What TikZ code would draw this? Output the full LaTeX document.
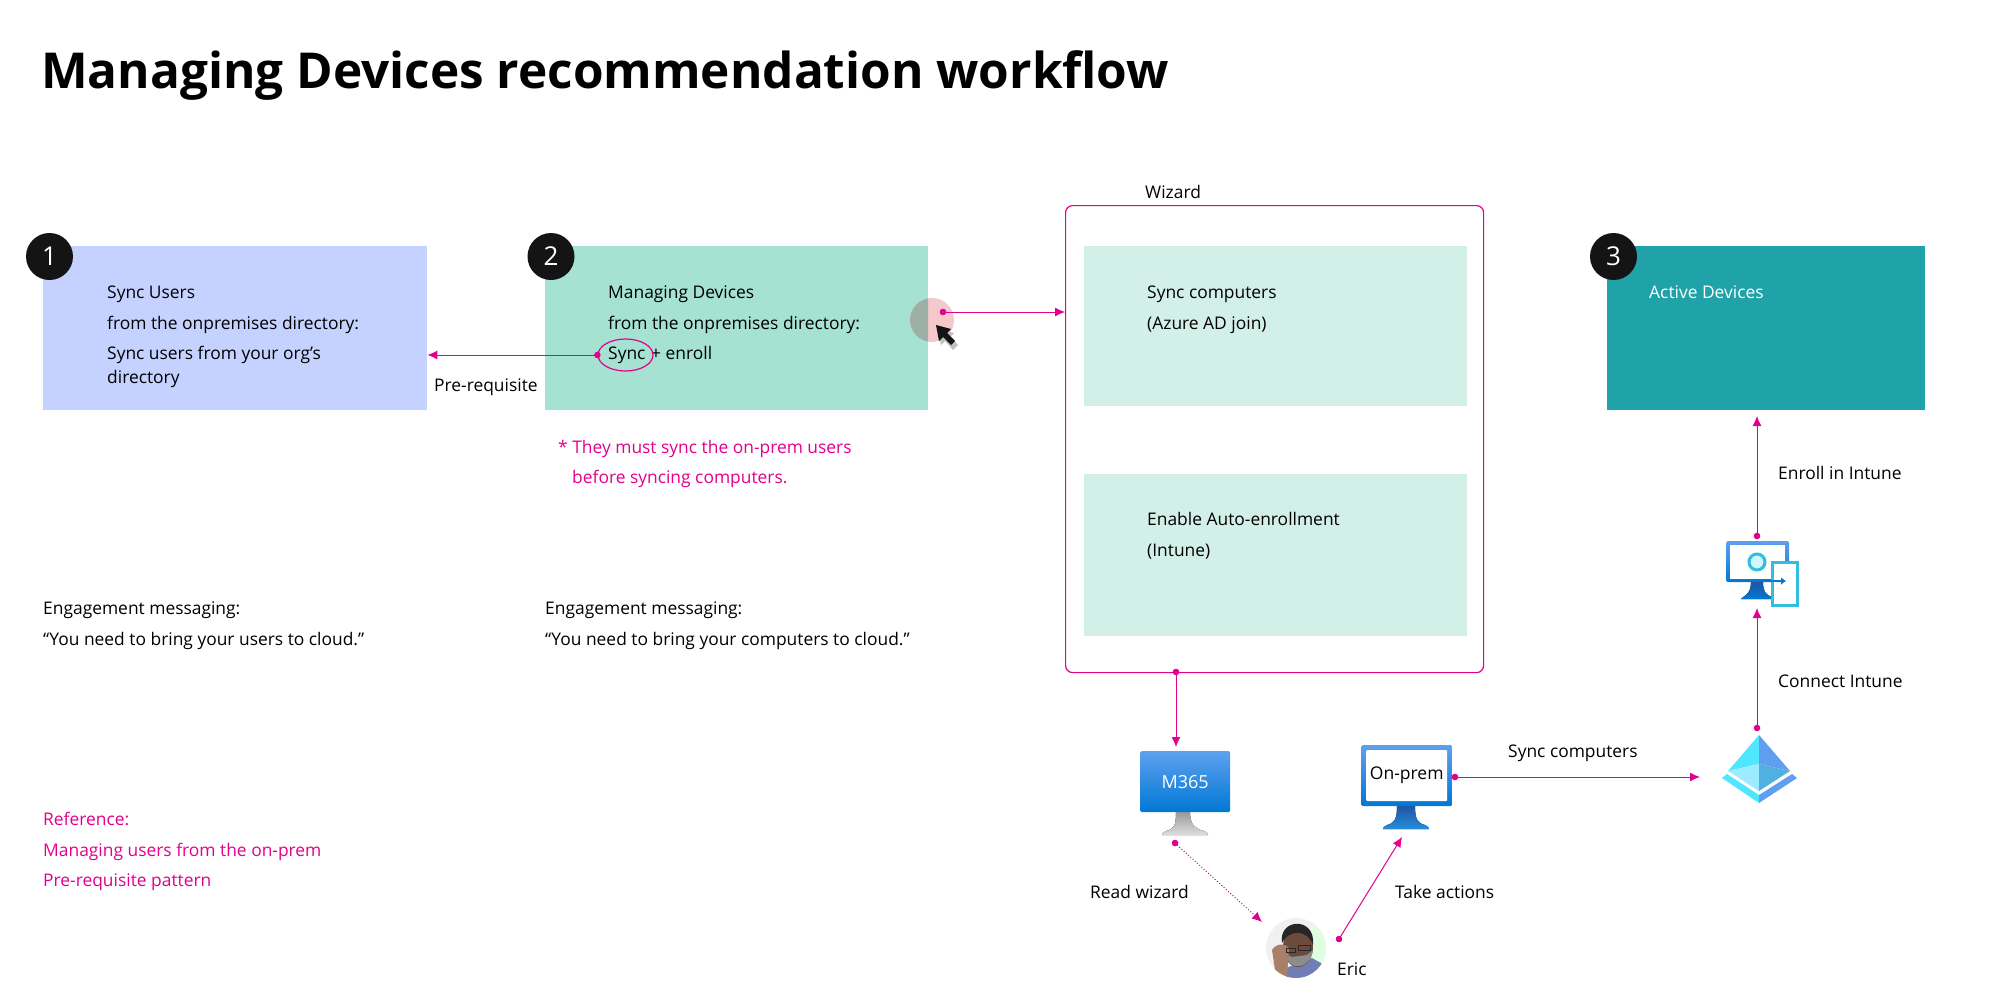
\documentclass[tikz,border=0pt]{standalone}
\usepackage{fontspec}
\setmainfont{Open Sans}
\usepackage{tikz}
\usetikzlibrary{arrows.meta, shapes.geometric}

\definecolor{PinkLine}{HTML}{E3008C}
\definecolor{UsersBlue}{HTML}{C5D2FF}
\definecolor{DevicesGreen}{HTML}{A5E2D2}
\definecolor{WizardGreen}{HTML}{D2F0E8}
\definecolor{ActiveTeal}{HTML}{1FA2A8}
\definecolor{BadgeBlack}{HTML}{141414}
\definecolor{ClickPink}{HTML}{F5C8CB}
\definecolor{ClickGrey}{HTML}{9DB0A5}
\definecolor{ScreenTop}{HTML}{5EA0EF}
\definecolor{ScreenLow}{HTML}{0078D4}
\definecolor{NeckDark}{HTML}{1F56A3}
\definecolor{IconCyan}{HTML}{32BEDD}
\definecolor{EntraCyan}{HTML}{50E6FF}
\definecolor{EntraBlue}{HTML}{5EA0EF}
\definecolor{EntraPale}{HTML}{9CEBFF}
\definecolor{EntraMid}{HTML}{50B0E0}
\definecolor{EricSkin}{HTML}{6E4A3C}
\definecolor{EricHand}{HTML}{A97F68}
\definecolor{EricShirt}{HTML}{6F7FB5}

\tikzset{
  body/.style={anchor=base west, inner sep=0pt, font=\fontsize{17.4}{20}\selectfont},
  pinktext/.style={body, text=PinkLine},
  panel/.style={anchor=north west, inner sep=0pt},
  badge/.style={circle, fill=BadgeBlack, text=white, minimum size=47pt, inner sep=0pt, font=\fontsize{26}{30}\selectfont},
  flow/.style={PinkLine, line width=1pt, shorten <=-3.25pt, {Circle[length=6.5pt]}-{Latex[length=10pt,width=9pt]}},
  monitor/.style={anchor=north west, inner sep=0pt, rounded corners=1.5pt},
}

\begin{document}
\begin{tikzpicture}[x=1pt, y=-1pt]
    \useasboundingbox (0,0) rectangle (2000,996);

    \node[anchor=base west, inner sep=0pt, font=\fontsize{49.5}{56}\selectfont\bfseries] (title) at (41,88) {Managing Devices recommendation workflow};

    % step boxes
    \node[panel, fill=UsersBlue, minimum width=384pt, minimum height=164pt] (users) at (43,246) {};
    \node[panel, fill=DevicesGreen, minimum width=383pt, minimum height=164pt] (devices) at (545,246) {};
    \node[panel, fill=ActiveTeal, minimum width=318pt, minimum height=164pt] (active) at (1607,246) {};

    \foreach \n/\x in {1/49.5, 2/551, 3/1613.5} {
        \node[badge] (badge\n) at (\x,256.5) {\n};
    }

    \node[body] (usersA) at (107,298) {Sync Users};
    \node[body] (usersB) at (107,329) {from the onpremises directory:};
    \node[body] (usersC) at (107,359) {Sync users from your org’s};
    \node[body] (usersD) at (107,383) {directory};

    \node[body] (devA) at (608,298) {Managing Devices};
    \node[body] (devB) at (608,329) {from the onpremises directory:};
    \node[body] (devC) at (608,359) {Sync};
    \node[body] (devD) at (651,359) {+ enroll};
    \node[body, text=white] (activeA) at (1649,298) {Active Devices};

    \node[draw=PinkLine, line width=1.2pt, ellipse, minimum width=55pt, minimum height=32pt, inner sep=0pt] (syncring) at (625.5,355) {};
    \node[body] (prereq) at (434,391) {Pre-requisite};

    \node[pinktext] (noteA) at (558,453) {* They must sync the on-prem users};
    \node[pinktext] (noteB) at (572,483) {before syncing computers.};

    \node[body] (engA) at (43,614) {Engagement messaging:};
    \node[body] (engB) at (43,645) {“You need to bring your users to cloud.”};
    \node[body] (engC) at (545,614) {Engagement messaging:};
    \node[body] (engD) at (545,645) {“You need to bring your computers to cloud.”};

    \node[pinktext] (refA) at (43,825) {Reference:};
    \node[pinktext] (refB) at (43,856) {Managing users from the on-prem};
    \node[pinktext] (refC) at (43,886) {Pre-requisite pattern};

    % wizard
    \node[panel, draw=PinkLine, line width=1.2pt, rounded corners=7pt, minimum width=418pt, minimum height=467pt] (wizard) at (1065,205) {};
    \node[body] (wizardlabel) at (1145,198) {Wizard};
    \node[panel, fill=WizardGreen, minimum width=383pt, minimum height=160pt] (joinbox) at (1084,246) {};
    \node[panel, fill=WizardGreen, minimum width=383pt, minimum height=162pt] (enrollbox) at (1084,474) {};
    \node[body] (joinA) at (1147,298) {Sync computers};
    \node[body] (joinB) at (1147,329) {(Azure AD join)};
    \node[body] (enrollA) at (1147,525) {Enable Auto-enrollment};
    \node[body] (enrollB) at (1147,556) {(Intune)};

    % click highlight and pointer
    \fill[ClickPink] (932,320) circle [radius=22];
    \begin{scope}
        \clip (910,298) rectangle (928,342);
        \fill[ClickGrey] (932,320) circle [radius=22];
    \end{scope}
    \fill[black!25] (938,329) -- (941,345) -- (945,341) -- (953,350) -- (958,345) -- (950,337) -- (954,333) -- cycle;
    \fill[BadgeBlack] (936,325) -- (939,341) -- (943,337) -- (951,345) -- (955,341) -- (947,333) -- (951,329) -- cycle;

    % M365 monitor
    \fill[top color=black!40, bottom color=black!13] (1176,812) -- (1190,812) .. controls (1190,826) and (1196,829) .. (1204,831) .. controls (1207,832) and (1208,834) .. (1208,835) -- (1162,835) .. controls (1162,834) and (1163,832) .. (1166,831) .. controls (1174,829) and (1176,826) .. (1176,812) -- cycle;
    \node[monitor, top color=ScreenTop, bottom color=ScreenLow, minimum width=90pt, minimum height=61pt, text=white, font=\fontsize{18}{20}\selectfont] (m365) at (1140,751) {M365};

    % on-prem monitor
    \fill[top color=NeckDark, bottom color=ScreenLow!85!white] (1397,806) -- (1415,806) .. controls (1415,820) and (1418,823) .. (1425,825) .. controls (1428,826) and (1429,828) .. (1429,829) -- (1383,829) .. controls (1383,828) and (1384,826) .. (1387,825) .. controls (1394,823) and (1397,820) .. (1397,806) -- cycle;
    \node[monitor, top color=ScreenTop, bottom color=ScreenLow, minimum width=91pt, minimum height=61pt] (onprem) at (1361,745) {};
    \node[anchor=north west, fill=white, inner sep=0pt, rounded corners=1pt, minimum width=81pt, minimum height=51pt, font=\fontsize{17.5}{20}\selectfont] (onpremtext) at (1366,750) {On-prem};

    % Eric
    \begin{scope}
        \clip (1296,948) circle [radius=30];
        \fill[black!6] (1266,918) rectangle (1326,978);
        \fill[green!12!white] (1312,925) rectangle (1326,968);
        \fill[EricShirt] (1286,968) -- (1312,958) -- (1326,966) -- (1326,978) -- (1286,978) -- cycle;
        \fill[EricSkin] (1298,947) ellipse [x radius=15, y radius=20];
        \fill[black!45] (1286,954) .. controls (1288,972) and (1310,970) .. (1313,950) -- (1307,955) -- (1292,957) -- cycle;
        \fill[black!85] (1282,943) .. controls (1278,918) and (1316,916) .. (1313,945) .. controls (1308,930) and (1290,928) .. (1282,943) -- cycle;
        \fill[EricHand] (1272,950) .. controls (1276,943) and (1286,943) .. (1289,948) -- (1288,962) -- (1287,978) -- (1276,976) -- cycle;
        \draw[black!85, line width=1pt] (1286,948) rectangle (1295,952) (1298,945) rectangle (1310,950);
    \end{scope}
    \node[body] (eric) at (1337,975) {Eric};

    % device icon
    \node[monitor, draw=none, top color=ScreenTop, bottom color=ScreenLow, minimum width=63pt, minimum height=41pt] (pcframe) at (1726,541) {};
    \node[anchor=north west, fill=white, inner sep=0pt, minimum width=55pt, minimum height=34pt] (pcscreen) at (1730,545) {};
    \fill[top color=NeckDark, bottom color=ScreenLow] (1751,582) -- (1763,582) .. controls (1763,592) and (1766,595) .. (1772,597) -- (1772,599) -- (1741,599) .. controls (1743,596) and (1751,595) .. (1751,582) -- cycle;
    \node[circle, draw=IconCyan, line width=3pt, fill=EntraPale!45!white, minimum size=16pt, inner sep=0pt] (pcdisc) at (1757,562) {};
    \node[anchor=north west, draw=IconCyan, line width=2.5pt, fill=white, inner sep=0pt, minimum width=25pt, minimum height=43pt] (tablet) at (1771,561) {};
    \draw[ScreenLow, line width=2pt, -{Latex[length=5pt,width=8pt]}] (1732,581) -- (1786,581);

    % entra icon
    \fill[EntraCyan] (1759,735) -- (1728,771) -- (1759,764) -- cycle;
    \fill[EntraBlue] (1759,735) -- (1790,771) -- (1759,764) -- cycle;
    \fill[EntraPale] (1728,771) -- (1759,791) -- (1759,764) -- cycle;
    \fill[EntraMid] (1790,771) -- (1759,791) -- (1759,764) -- cycle;
    \fill[EntraCyan] (1722,778) -- (1727,774) -- (1759,795) -- (1759,803) -- cycle;
    \fill[EntraBlue] (1797,778) -- (1792,774) -- (1759,795) -- (1759,803) -- cycle;

    % labels on the lower flow
    \node[body] (readlabel) at (1090,898) {Read wizard};
    \node[body] (takelabel) at (1395,898) {Take actions};
    \node[body] (synclabel) at (1508,757) {Sync computers};
    \node[body] (connectlabel) at (1778,687) {Connect Intune};
    \node[body] (enrolllabel) at (1778,479) {Enroll in Intune};

    % connector ends
    \coordinate (clickdot) at (943,312);
    \coordinate (wizarddot) at (1176,672);
    \coordinate (m365top) at (1176,747);
    \coordinate (m365low) at (1175,843);
    \coordinate (ericin) at (1262,922);
    \coordinate (ericout) at (1339,939);
    \coordinate (onpremin) at (1402,837);
    \coordinate (onpremout) at (1455,777);
    \coordinate (entrain) at (1700,777);
    \coordinate (entraout) at (1757,728);
    \coordinate (iconin) at (1757,608);
    \coordinate (iconout) at (1757,536);
    \coordinate (activein) at (1757,416);

    \draw[flow] (syncring.west) -- (users.east |- syncring.west);
    \draw[flow] (clickdot) -- (wizard.west |- clickdot);
    \draw[flow] (wizarddot) -- (m365top);
    \draw[flow, dotted] (m365low) -- (ericin);
    \draw[flow] (ericout) -- (onpremin);
    \draw[flow] (onpremout) -- (entrain);
    \draw[flow] (entraout) -- (iconin);
    \draw[flow] (iconout) -- (activein);
\end{tikzpicture}
\end{document}
